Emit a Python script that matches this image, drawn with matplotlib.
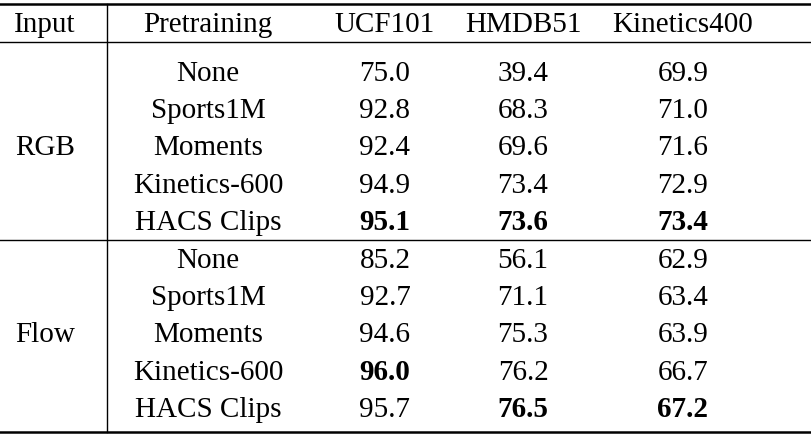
import matplotlib
matplotlib.use("Agg")
import matplotlib.pyplot as plt

columns = ["Input", "Pretraining", "UCF101", "HMDB51", "Kinetics400"]
inputs = ["RGB", "Flow"]
pretraining = ["None", "Sports1M", "Moments", "Kinetics-600", "HACS Clips"]
rgb_scores = [[75.0, 39.4, 69.9], [92.8, 68.3, 71.0], [92.4, 69.6, 71.6],
              [94.9, 73.4, 72.9], [95.1, 73.6, 73.4]]
flow_scores = [[85.2, 56.1, 62.9], [92.7, 71.1, 63.4], [94.6, 75.3, 63.9],
               [96.0, 76.2, 66.7], [95.7, 76.5, 67.2]]
groups = [rgb_scores, flow_scores]

W, H = 811, 436
fig = plt.figure(figsize=(W / 100, H / 100), dpi=100)
ax = fig.add_axes([0, 0, 1, 1])
ax.set_xlim(0, W)
ax.set_ylim(H, 0)
ax.axis("off")
plt.rcParams["font.family"] = ["Liberation Serif", "DejaVu Serif"]
fs = 21
dy = 3  # vertical centring nudge

col_x = [45, 208, 385, 523, 683]
for x, name in zip(col_x, columns):
    ax.text(x, 22 + dy, name, ha="center", va="center", fontsize=fs)

row_y0 = [71, 258]
step = 37.2
for g, (label, scores) in enumerate(zip(inputs, groups)):
    ys = [row_y0[g] + dy + i * step for i in range(len(pretraining))]
    ax.text(col_x[0], (ys[0] + ys[-1]) / 2, label, ha="center", va="center", fontsize=fs)
    best = [max(r[j] for r in scores) for j in range(3)]
    for y, name, row in zip(ys, pretraining, scores):
        ax.text(col_x[1], y, name, ha="center", va="center", fontsize=fs)
        for j, v in enumerate(row):
            ax.text(col_x[2 + j], y, f"{v:.1f}", ha="center", va="center", fontsize=fs,
                    fontweight="bold" if v == best[j] else "normal")

ax.plot([0, W], [4, 4], color="black", lw=1.8)
ax.plot([0, W], [42, 42], color="black", lw=1.0)
ax.plot([0, W], [240, 240], color="black", lw=1.0)
ax.plot([0, W], [432, 432], color="black", lw=1.8)
ax.plot([107, 107], [4, 432], color="black", lw=1.0)

fig.savefig("out.png", dpi=100)
